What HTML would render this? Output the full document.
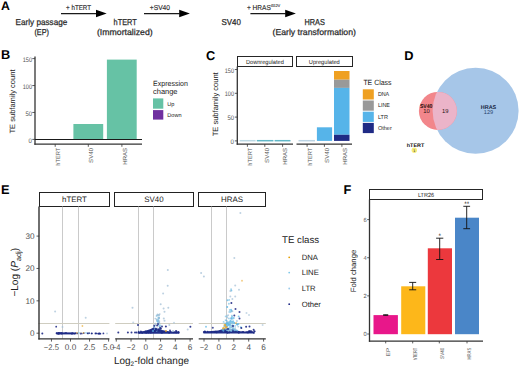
<!DOCTYPE html><html><head><meta charset="utf-8"><style>html,body{margin:0;padding:0;background:#fff;width:520px;height:367px;overflow:hidden}svg{display:block}text{font-family:"Liberation Sans",sans-serif;text-rendering:geometricPrecision}</style></head><body>
<svg width="520" height="367" viewBox="0 0 520 367">
<rect width="520" height="367" fill="#fff"/>
<text x="1.0" y="9.9" font-size="12.3" fill="#000" text-anchor="start" font-weight="bold">A</text>
<text x="15.6" y="24.8" font-size="8.6" fill="#2b2b2b" text-anchor="start" textLength="51.7" lengthAdjust="spacingAndGlyphs" stroke="#2b2b2b" stroke-width="0.25">Early passage</text>
<text x="34.4" y="34.9" font-size="8.6" fill="#2b2b2b" text-anchor="start" textLength="14.6" lengthAdjust="spacingAndGlyphs" stroke="#2b2b2b" stroke-width="0.25">(EP)</text>
<text x="113.6" y="24.8" font-size="8.6" fill="#2b2b2b" text-anchor="start" textLength="23.1" lengthAdjust="spacingAndGlyphs" stroke="#2b2b2b" stroke-width="0.25">hTERT</text>
<text x="96.9" y="34.9" font-size="8.6" fill="#2b2b2b" text-anchor="start" textLength="55.8" lengthAdjust="spacingAndGlyphs" stroke="#2b2b2b" stroke-width="0.25">(Immortalized)</text>
<text x="221.5" y="24.8" font-size="8.6" fill="#2b2b2b" text-anchor="start" textLength="19.4" lengthAdjust="spacingAndGlyphs" stroke="#2b2b2b" stroke-width="0.25">SV40</text>
<text x="304.4" y="24.8" font-size="8.6" fill="#2b2b2b" text-anchor="start" textLength="20.4" lengthAdjust="spacingAndGlyphs" stroke="#2b2b2b" stroke-width="0.25">HRAS</text>
<text x="272.5" y="34.9" font-size="8.6" fill="#2b2b2b" text-anchor="start" textLength="83.4" lengthAdjust="spacingAndGlyphs" stroke="#2b2b2b" stroke-width="0.25">(Early transformation)</text>
<text x="66.1" y="9.6" font-size="7.1" fill="#2b2b2b" text-anchor="start" textLength="24.9" lengthAdjust="spacingAndGlyphs" stroke="#2b2b2b" stroke-width="0.15">+ hTERT</text>
<text x="149.8" y="9.8" font-size="7.1" fill="#2b2b2b" text-anchor="start" textLength="20.2" lengthAdjust="spacingAndGlyphs" stroke="#2b2b2b" stroke-width="0.15">+SV40</text>
<text x="246.9" y="9.8" font-size="7.1" fill="#2b2b2b" text-anchor="start" textLength="23.9" lengthAdjust="spacingAndGlyphs" stroke="#2b2b2b" stroke-width="0.15">+ HRAS</text>
<text x="271.0" y="7.4" font-size="4.0" fill="#2b2b2b" text-anchor="start" textLength="9.2" lengthAdjust="spacingAndGlyphs" stroke="#2b2b2b" stroke-width="0.15">G12V</text>
<line x1="61" y1="13.6" x2="96.5" y2="13.6" stroke="#1a1a1a" stroke-width="1.1"/>
<polygon points="96.0,9.8 106.7,13.6 96.0,17.2" fill="#000"/>
<line x1="144" y1="13.6" x2="179.7" y2="13.6" stroke="#1a1a1a" stroke-width="1.1"/>
<polygon points="179.2,9.8 189.89999999999998,13.6 179.2,17.2" fill="#000"/>
<line x1="250.4" y1="13.6" x2="285.7" y2="13.6" stroke="#1a1a1a" stroke-width="1.1"/>
<polygon points="285.2,9.8 295.9,13.6 285.2,17.2" fill="#000"/>
<text x="1.0" y="59.4" font-size="12.8" fill="#000" text-anchor="start" font-weight="bold">B</text>
<line x1="35" y1="56.6" x2="35" y2="144.8" stroke="#333" stroke-width="1.3"/>
<line x1="34.4" y1="144.2" x2="142" y2="144.2" stroke="#333" stroke-width="1.3"/>
<line x1="32.3" y1="139.4" x2="35" y2="139.4" stroke="#333" stroke-width="0.8"/>
<text x="32.0" y="142.5" font-size="6.6" fill="#555" text-anchor="end" textLength="3.4" lengthAdjust="spacingAndGlyphs">0</text>
<line x1="32.3" y1="112.46666666666667" x2="35" y2="112.46666666666667" stroke="#333" stroke-width="0.8"/>
<text x="32.0" y="115.56666666666666" font-size="6.6" fill="#555" text-anchor="end" textLength="6.6" lengthAdjust="spacingAndGlyphs">50</text>
<line x1="32.3" y1="85.53333333333335" x2="35" y2="85.53333333333335" stroke="#333" stroke-width="0.8"/>
<text x="32.0" y="88.63333333333334" font-size="6.6" fill="#555" text-anchor="end" textLength="9.3" lengthAdjust="spacingAndGlyphs">100</text>
<line x1="32.3" y1="58.60000000000001" x2="35" y2="58.60000000000001" stroke="#333" stroke-width="0.8"/>
<text x="32.0" y="61.70000000000001" font-size="6.6" fill="#555" text-anchor="end" textLength="9.3" lengthAdjust="spacingAndGlyphs">150</text>
<rect x="73.40" y="124.00" width="29.80" height="15.50" fill="#66C2A5"/>
<rect x="106.90" y="59.60" width="29.80" height="79.90" fill="#66C2A5"/>
<line x1="35" y1="139.5" x2="142" y2="139.5" stroke="#1a1a1a" stroke-width="1.1"/>
<line x1="55.2" y1="144.2" x2="55.2" y2="146.8" stroke="#333" stroke-width="0.8"/>
<line x1="88.3" y1="144.2" x2="88.3" y2="146.8" stroke="#333" stroke-width="0.8"/>
<line x1="121.9" y1="144.2" x2="121.9" y2="146.8" stroke="#333" stroke-width="0.8"/>
<text transform="translate(59.800000000000004,147.9) rotate(-90)" x="0" y="0" font-size="5.9" fill="#555" text-anchor="end" textLength="17.8" lengthAdjust="spacingAndGlyphs">hTERT</text>
<text transform="translate(92.89999999999999,147.9) rotate(-90)" x="0" y="0" font-size="5.9" fill="#555" text-anchor="end" textLength="15.0" lengthAdjust="spacingAndGlyphs">SV40</text>
<text transform="translate(126.5,147.9) rotate(-90)" x="0" y="0" font-size="5.9" fill="#555" text-anchor="end" textLength="16.8" lengthAdjust="spacingAndGlyphs">HRAS</text>
<text transform="translate(15.0,101.5) rotate(-90)" x="0" y="0" font-size="7.6" fill="#222" text-anchor="middle" textLength="64" lengthAdjust="spacingAndGlyphs">TE subfamily count</text>
<text x="153" y="86.1" font-size="7.5" fill="#222" text-anchor="start" textLength="34.9" lengthAdjust="spacingAndGlyphs">Expression</text>
<text x="153" y="93.8" font-size="7.5" fill="#222" text-anchor="start" textLength="24.5" lengthAdjust="spacingAndGlyphs">change</text>
<rect x="153.00" y="98.40" width="10.30" height="10.30" fill="#66C2A5"/>
<rect x="153.00" y="110.10" width="10.30" height="9.50" fill="#7030A0"/>
<text x="167.3" y="106.2" font-size="5.6" fill="#222" text-anchor="start">Up</text>
<text x="167.3" y="117.0" font-size="5.6" fill="#222" text-anchor="start" textLength="14.2" lengthAdjust="spacingAndGlyphs">Down</text>
<text x="206.0" y="59.9" font-size="12.8" fill="#000" text-anchor="start" font-weight="bold">C</text>
<rect x="237.50" y="56.50" width="55.00" height="10.00" fill="#fff" stroke="#262626" stroke-width="1"/>
<rect x="296.50" y="56.50" width="56.00" height="10.00" fill="#fff" stroke="#262626" stroke-width="1"/>
<text x="264.9" y="64.0" font-size="6.0" fill="#222" text-anchor="middle" textLength="37.8" lengthAdjust="spacingAndGlyphs">Downregulated</text>
<text x="324.3" y="64.0" font-size="6.0" fill="#222" text-anchor="middle" textLength="31" lengthAdjust="spacingAndGlyphs">Upregulated</text>
<line x1="237.3" y1="66.5" x2="237.3" y2="144.8" stroke="#333" stroke-width="1.3"/>
<line x1="236.7" y1="144.2" x2="293" y2="144.2" stroke="#333" stroke-width="1.3"/>
<line x1="296.5" y1="144.2" x2="352" y2="144.2" stroke="#333" stroke-width="1.3"/>
<line x1="234.8" y1="140.9" x2="237.2" y2="140.9" stroke="#333" stroke-width="0.8"/>
<text x="234.0" y="143.9" font-size="6.6" fill="#555" text-anchor="end" textLength="3.4" lengthAdjust="spacingAndGlyphs">0</text>
<line x1="234.8" y1="117.10000000000001" x2="237.2" y2="117.10000000000001" stroke="#333" stroke-width="0.8"/>
<text x="234.0" y="120.10000000000001" font-size="6.6" fill="#555" text-anchor="end" textLength="6.6" lengthAdjust="spacingAndGlyphs">50</text>
<line x1="234.8" y1="93.30000000000001" x2="237.2" y2="93.30000000000001" stroke="#333" stroke-width="0.8"/>
<text x="234.0" y="96.30000000000001" font-size="6.6" fill="#555" text-anchor="end" textLength="9.3" lengthAdjust="spacingAndGlyphs">100</text>
<line x1="234.8" y1="69.5" x2="237.2" y2="69.5" stroke="#333" stroke-width="0.8"/>
<text x="234.0" y="72.5" font-size="6.6" fill="#555" text-anchor="end" textLength="9.3" lengthAdjust="spacingAndGlyphs">150</text>
<line x1="247.4" y1="144.2" x2="247.4" y2="146.8" stroke="#333" stroke-width="0.8"/>
<line x1="264.8" y1="144.2" x2="264.8" y2="146.8" stroke="#333" stroke-width="0.8"/>
<line x1="282.6" y1="144.2" x2="282.6" y2="146.8" stroke="#333" stroke-width="0.8"/>
<line x1="307.1" y1="144.2" x2="307.1" y2="146.8" stroke="#333" stroke-width="0.8"/>
<line x1="324.4" y1="144.2" x2="324.4" y2="146.8" stroke="#333" stroke-width="0.8"/>
<line x1="341.9" y1="144.2" x2="341.9" y2="146.8" stroke="#333" stroke-width="0.8"/>
<text transform="translate(252.0,147.9) rotate(-90)" x="0" y="0" font-size="5.9" fill="#555" text-anchor="end" textLength="17.8" lengthAdjust="spacingAndGlyphs">hTERT</text>
<text transform="translate(269.40000000000003,147.9) rotate(-90)" x="0" y="0" font-size="5.9" fill="#555" text-anchor="end" textLength="15.0" lengthAdjust="spacingAndGlyphs">SV40</text>
<text transform="translate(287.20000000000005,147.9) rotate(-90)" x="0" y="0" font-size="5.9" fill="#555" text-anchor="end" textLength="16.8" lengthAdjust="spacingAndGlyphs">HRAS</text>
<text transform="translate(311.70000000000005,147.9) rotate(-90)" x="0" y="0" font-size="5.9" fill="#555" text-anchor="end" textLength="17.8" lengthAdjust="spacingAndGlyphs">hTERT</text>
<text transform="translate(329.0,147.9) rotate(-90)" x="0" y="0" font-size="5.9" fill="#555" text-anchor="end" textLength="15.0" lengthAdjust="spacingAndGlyphs">SV40</text>
<text transform="translate(346.5,147.9) rotate(-90)" x="0" y="0" font-size="5.9" fill="#555" text-anchor="end" textLength="16.8" lengthAdjust="spacingAndGlyphs">HRAS</text>
<line x1="239.7" y1="140.7" x2="255.6" y2="140.7" stroke="#BCD9E4" stroke-width="1.5"/>
<line x1="256.8" y1="140.7" x2="273.4" y2="140.7" stroke="#62B8C8" stroke-width="1.5"/>
<line x1="274.6" y1="140.7" x2="290.5" y2="140.7" stroke="#62B8C8" stroke-width="1.5"/>
<line x1="298.5" y1="140.7" x2="315.0" y2="140.7" stroke="#BCD4E4" stroke-width="1.5"/>
<rect x="316.90" y="127.30" width="15.20" height="13.60" fill="#56B4E9"/>
<rect x="334.00" y="71.00" width="15.50" height="8.70" fill="#EFA021"/>
<rect x="334.00" y="79.70" width="15.50" height="8.20" fill="#999999"/>
<rect x="334.00" y="87.90" width="15.50" height="46.90" fill="#56B4E9"/>
<rect x="334.00" y="134.80" width="15.50" height="6.10" fill="#1F2A85"/>
<text transform="translate(218.0,104.3) rotate(-90)" x="0" y="0" font-size="7.6" fill="#222" text-anchor="middle" textLength="64" lengthAdjust="spacingAndGlyphs">TE subfamily count</text>
<text x="363.4" y="84.6" font-size="7.5" fill="#222" text-anchor="start" textLength="28.1" lengthAdjust="spacingAndGlyphs">TE Class</text>
<rect x="362.80" y="89.30" width="11.00" height="10.20" fill="#EFA021"/>
<text x="377.9" y="96.1" font-size="5.8" fill="#222" text-anchor="start" textLength="11.3" lengthAdjust="spacingAndGlyphs">DNA</text>
<rect x="362.80" y="100.50" width="11.00" height="10.20" fill="#999999"/>
<text x="377.9" y="107.3" font-size="5.8" fill="#222" text-anchor="start" textLength="12" lengthAdjust="spacingAndGlyphs">LINE</text>
<rect x="362.80" y="111.70" width="11.00" height="10.20" fill="#56B4E9"/>
<text x="377.9" y="118.49999999999999" font-size="5.8" fill="#222" text-anchor="start" textLength="10" lengthAdjust="spacingAndGlyphs">LTR</text>
<rect x="362.80" y="122.90" width="11.00" height="10.20" fill="#1F2A85"/>
<text x="377.9" y="129.7" font-size="5.8" fill="#222" text-anchor="start" textLength="13.9" lengthAdjust="spacingAndGlyphs">Other</text>
<text x="404.3" y="59.9" font-size="12.8" fill="#000" text-anchor="start" font-weight="bold">D</text>
<defs><clipPath id="bigc"><circle cx="475.6" cy="110.8" r="43"/></clipPath></defs>
<circle cx="475.6" cy="110.8" r="43" fill="#A6C6E8"/>
<circle cx="437.9" cy="110.9" r="19" fill="#F2868B"/>
<circle cx="437.9" cy="110.9" r="19" fill="#EBB4C9" clip-path="url(#bigc)"/>
<text x="426.2" y="107.5" font-size="5.6" fill="#110808" text-anchor="middle" font-weight="bold" textLength="12.5" lengthAdjust="spacingAndGlyphs">SV40</text>
<text x="426.4" y="112.7" font-size="5.8" fill="#221111" text-anchor="middle">10</text>
<text x="445.3" y="113.1" font-size="5.8" fill="#221111" text-anchor="middle">19</text>
<text x="488.5" y="108.5" font-size="5.6" fill="#14223c" text-anchor="middle" font-weight="bold" textLength="15.4" lengthAdjust="spacingAndGlyphs">HRAS</text>
<text x="488.5" y="113.9" font-size="5.6" fill="#24406a" text-anchor="middle">129</text>
<circle cx="414.3" cy="150.3" r="2.7" fill="#F6EC7A"/>
<text x="415.5" y="146.9" font-size="5.0" fill="#111" text-anchor="middle" font-weight="bold" textLength="17.4" lengthAdjust="spacingAndGlyphs">hTERT</text>
<text x="414.3" y="151.8" font-size="3.8" fill="#222" text-anchor="middle">1</text>
<text x="1.0" y="193.9" font-size="12.8" fill="#000" text-anchor="start" font-weight="bold">E</text>
<rect x="39.50" y="192.50" width="70.00" height="14.00" fill="#fff" stroke="#222" stroke-width="1"/>
<text x="74.5" y="202.3" font-size="7.9" fill="#222" text-anchor="middle">hTERT</text>
<line x1="62.5" y1="206.6" x2="62.5" y2="338.8" stroke="#CACACA" stroke-width="1"/>
<line x1="78.5" y1="206.6" x2="78.5" y2="338.8" stroke="#CACACA" stroke-width="1"/>
<line x1="38.4" y1="323.5" x2="109.4" y2="323.5" stroke="#CFCDC0" stroke-width="1"/>
<line x1="38.4" y1="338.9" x2="109.4" y2="338.9" stroke="#333" stroke-width="1.4"/>
<line x1="51.45" y1="338.8" x2="51.45" y2="341.6" stroke="#333" stroke-width="0.8"/>
<text x="51.45" y="349.8" font-size="8.2" fill="#555" text-anchor="middle" textLength="15.2" lengthAdjust="spacingAndGlyphs">−2.5</text>
<line x1="70.5" y1="338.8" x2="70.5" y2="341.6" stroke="#333" stroke-width="0.8"/>
<text x="70.5" y="349.8" font-size="8.2" fill="#555" text-anchor="middle">0.0</text>
<line x1="89.55" y1="338.8" x2="89.55" y2="341.6" stroke="#333" stroke-width="0.8"/>
<text x="89.55" y="349.8" font-size="8.2" fill="#555" text-anchor="middle">2.5</text>
<line x1="108.6" y1="338.8" x2="108.6" y2="341.6" stroke="#333" stroke-width="0.8"/>
<text x="108.6" y="349.8" font-size="8.2" fill="#555" text-anchor="middle">5.0</text>
<rect x="114.50" y="192.50" width="79.00" height="14.00" fill="#fff" stroke="#222" stroke-width="1"/>
<text x="154.0" y="202.3" font-size="7.9" fill="#222" text-anchor="middle">SV40</text>
<line x1="138.5" y1="206.6" x2="138.5" y2="338.8" stroke="#CACACA" stroke-width="1"/>
<line x1="153.5" y1="206.6" x2="153.5" y2="338.8" stroke="#CACACA" stroke-width="1"/>
<line x1="115.2" y1="323.5" x2="193.0" y2="323.5" stroke="#CFCDC0" stroke-width="1"/>
<line x1="115.2" y1="338.9" x2="193.0" y2="338.9" stroke="#333" stroke-width="1.4"/>
<line x1="116.28000000000002" y1="338.8" x2="116.28000000000002" y2="341.6" stroke="#333" stroke-width="0.8"/>
<text x="116.28000000000002" y="349.8" font-size="8.2" fill="#555" text-anchor="middle" textLength="8.6" lengthAdjust="spacingAndGlyphs">−4</text>
<line x1="131.04000000000002" y1="338.8" x2="131.04000000000002" y2="341.6" stroke="#333" stroke-width="0.8"/>
<text x="131.04000000000002" y="349.8" font-size="8.2" fill="#555" text-anchor="middle" textLength="8.6" lengthAdjust="spacingAndGlyphs">−2</text>
<line x1="145.8" y1="338.8" x2="145.8" y2="341.6" stroke="#333" stroke-width="0.8"/>
<text x="145.8" y="349.8" font-size="8.2" fill="#555" text-anchor="middle">0</text>
<line x1="160.56" y1="338.8" x2="160.56" y2="341.6" stroke="#333" stroke-width="0.8"/>
<text x="160.56" y="349.8" font-size="8.2" fill="#555" text-anchor="middle">2</text>
<line x1="175.32000000000002" y1="338.8" x2="175.32000000000002" y2="341.6" stroke="#333" stroke-width="0.8"/>
<text x="175.32000000000002" y="349.8" font-size="8.2" fill="#555" text-anchor="middle">4</text>
<line x1="190.08" y1="338.8" x2="190.08" y2="341.6" stroke="#333" stroke-width="0.8"/>
<text x="190.08" y="349.8" font-size="8.2" fill="#555" text-anchor="middle">6</text>
<rect x="198.50" y="192.50" width="67.00" height="14.00" fill="#fff" stroke="#222" stroke-width="1"/>
<text x="232.0" y="202.3" font-size="7.9" fill="#222" text-anchor="middle">HRAS</text>
<line x1="211.5" y1="206.6" x2="211.5" y2="338.8" stroke="#CACACA" stroke-width="1"/>
<line x1="226.5" y1="206.6" x2="226.5" y2="338.8" stroke="#CACACA" stroke-width="1"/>
<line x1="198.7" y1="323.5" x2="265.8" y2="323.5" stroke="#CFCDC0" stroke-width="1"/>
<line x1="198.7" y1="338.9" x2="265.8" y2="338.9" stroke="#333" stroke-width="1.4"/>
<line x1="204.0" y1="338.8" x2="204.0" y2="341.6" stroke="#333" stroke-width="0.8"/>
<text x="204.0" y="349.8" font-size="8.2" fill="#555" text-anchor="middle" textLength="8.6" lengthAdjust="spacingAndGlyphs">−2</text>
<line x1="218.9" y1="338.8" x2="218.9" y2="341.6" stroke="#333" stroke-width="0.8"/>
<text x="218.9" y="349.8" font-size="8.2" fill="#555" text-anchor="middle">0</text>
<line x1="233.8" y1="338.8" x2="233.8" y2="341.6" stroke="#333" stroke-width="0.8"/>
<text x="233.8" y="349.8" font-size="8.2" fill="#555" text-anchor="middle">2</text>
<line x1="248.70000000000002" y1="338.8" x2="248.70000000000002" y2="341.6" stroke="#333" stroke-width="0.8"/>
<text x="248.70000000000002" y="349.8" font-size="8.2" fill="#555" text-anchor="middle">4</text>
<line x1="263.6" y1="338.8" x2="263.6" y2="341.6" stroke="#333" stroke-width="0.8"/>
<text x="263.6" y="349.8" font-size="8.2" fill="#555" text-anchor="middle">6</text>
<line x1="39.0" y1="206.5" x2="39.0" y2="339.6" stroke="#333" stroke-width="1.4"/>
<line x1="36.5" y1="333.2" x2="39.2" y2="333.2" stroke="#333" stroke-width="0.8"/>
<text x="34.5" y="336.09999999999997" font-size="8.2" fill="#555" text-anchor="end">0</text>
<line x1="36.5" y1="300.8333333333333" x2="39.2" y2="300.8333333333333" stroke="#333" stroke-width="0.8"/>
<text x="34.5" y="303.7333333333333" font-size="8.2" fill="#555" text-anchor="end">10</text>
<line x1="36.5" y1="268.4666666666667" x2="39.2" y2="268.4666666666667" stroke="#333" stroke-width="0.8"/>
<text x="34.5" y="271.3666666666667" font-size="8.2" fill="#555" text-anchor="end">20</text>
<line x1="36.5" y1="236.1" x2="39.2" y2="236.1" stroke="#333" stroke-width="0.8"/>
<text x="34.5" y="239.0" font-size="8.2" fill="#555" text-anchor="end">30</text>
<text transform="translate(18.3,272.3) rotate(-90)" font-size="10.2" fill="#222" text-anchor="middle" textLength="48.6" lengthAdjust="spacingAndGlyphs">−Log (<tspan font-style="italic">P</tspan><tspan font-size="7.4" dy="2.2">adj</tspan><tspan dy="-2.2">)</tspan></text>
<text x="114" y="363.8" font-size="10.2" fill="#222" textLength="75" lengthAdjust="spacingAndGlyphs">Log<tspan font-size="6.5" dy="2">2</tspan><tspan dy="-2">-fold change</tspan></text>
<text x="282.0" y="242.7" font-size="9.7" fill="#222" text-anchor="start" textLength="37.1" lengthAdjust="spacingAndGlyphs">TE class</text>
<circle cx="289.2" cy="257.3" r="0.9" fill="#E69F00"/>
<text x="301.7" y="260.1" font-size="7.7" fill="#222" text-anchor="start">DNA</text>
<circle cx="289.2" cy="272.6" r="0.9" fill="#7FC8E8"/>
<text x="301.7" y="275.40000000000003" font-size="7.7" fill="#222" text-anchor="start">LINE</text>
<circle cx="289.2" cy="288.5" r="0.9" fill="#9BCBEA"/>
<text x="301.7" y="291.3" font-size="7.7" fill="#222" text-anchor="start">LTR</text>
<circle cx="289.2" cy="304.2" r="0.9" fill="#1F2A85"/>
<text x="301.7" y="307.0" font-size="7.7" fill="#222" text-anchor="start">Other</text>
<defs><filter id="bl" x="-5%" y="-5%" width="110%" height="110%"><feGaussianBlur stdDeviation="0.45"/></filter></defs>
<g filter="url(#bl)">
<circle cx="55.1" cy="311.4" r="1.0" fill="#A3BFD6" fill-opacity="0.7"/>
<circle cx="85.7" cy="317.8" r="1.0" fill="#A3BFD6" fill-opacity="0.7"/>
<circle cx="56.2" cy="326.7" r="0.9" fill="#1F2A85" fill-opacity="0.9"/>
<circle cx="62.5" cy="326.9" r="0.9" fill="#A3BFD6" fill-opacity="0.8"/>
<circle cx="82.4" cy="326.0" r="0.9" fill="#E9A21A" fill-opacity="0.6"/>
<circle cx="42.3" cy="333.4" r="1.0" fill="#1F2A85" fill-opacity="0.9"/>
<circle cx="103.4" cy="333.4" r="0.9" fill="#1F2A85" fill-opacity="0.9"/>
<circle cx="107.0" cy="333.4" r="0.9" fill="#A3BFD6" fill-opacity="0.8"/>
<rect x="56.5" y="332.4" width="18" height="2" fill="#1F2A85"/>
<circle cx="72.2" cy="333.4" r="0.85" fill="#1F2A85" fill-opacity="0.95"/>
<circle cx="96.2" cy="333.4" r="0.85" fill="#1F2A85" fill-opacity="0.95"/>
<circle cx="74.7" cy="333.5" r="0.85" fill="#1F2A85" fill-opacity="0.95"/>
<circle cx="61.4" cy="333.4" r="0.85" fill="#1F2A85" fill-opacity="0.95"/>
<circle cx="80.6" cy="333.6" r="0.85" fill="#1F2A85" fill-opacity="0.95"/>
<circle cx="58.5" cy="333.3" r="0.85" fill="#1F2A85" fill-opacity="0.95"/>
<circle cx="58.4" cy="333.6" r="0.85" fill="#1F2A85" fill-opacity="0.95"/>
<circle cx="83.8" cy="333.1" r="0.85" fill="#1F2A85" fill-opacity="0.95"/>
<circle cx="99.5" cy="333.7" r="0.85" fill="#1F2A85" fill-opacity="0.95"/>
<circle cx="81.8" cy="333.5" r="0.85" fill="#1F2A85" fill-opacity="0.95"/>
<circle cx="60.5" cy="333.1" r="0.85" fill="#1F2A85" fill-opacity="0.95"/>
<circle cx="75.7" cy="333.1" r="0.85" fill="#1F2A85" fill-opacity="0.95"/>
<circle cx="61.6" cy="333.2" r="0.85" fill="#1F2A85" fill-opacity="0.95"/>
<circle cx="57.0" cy="333.4" r="0.85" fill="#1F2A85" fill-opacity="0.95"/>
<circle cx="71.7" cy="333.6" r="0.85" fill="#1F2A85" fill-opacity="0.95"/>
<circle cx="75.3" cy="333.5" r="0.85" fill="#1F2A85" fill-opacity="0.95"/>
<circle cx="74.4" cy="333.5" r="0.85" fill="#1F2A85" fill-opacity="0.95"/>
<circle cx="72.4" cy="333.3" r="0.85" fill="#1F2A85" fill-opacity="0.95"/>
<circle cx="100.4" cy="333.7" r="0.85" fill="#1F2A85" fill-opacity="0.95"/>
<circle cx="91.6" cy="333.5" r="0.85" fill="#1F2A85" fill-opacity="0.95"/>
<circle cx="66.3" cy="333.2" r="0.85" fill="#1F2A85" fill-opacity="0.95"/>
<circle cx="65.3" cy="333.1" r="0.85" fill="#1F2A85" fill-opacity="0.95"/>
<circle cx="87.6" cy="333.3" r="0.85" fill="#1F2A85" fill-opacity="0.95"/>
<circle cx="91.9" cy="333.3" r="0.85" fill="#1F2A85" fill-opacity="0.95"/>
<circle cx="98.1" cy="333.6" r="0.85" fill="#1F2A85" fill-opacity="0.95"/>
<circle cx="56.5" cy="333.2" r="0.85" fill="#1F2A85" fill-opacity="0.95"/>
<circle cx="95.4" cy="333.4" r="0.85" fill="#1F2A85" fill-opacity="0.95"/>
<circle cx="99.4" cy="333.3" r="0.85" fill="#1F2A85" fill-opacity="0.95"/>
<circle cx="58.0" cy="333.5" r="0.85" fill="#1F2A85" fill-opacity="0.95"/>
<circle cx="88.3" cy="333.3" r="0.85" fill="#1F2A85" fill-opacity="0.95"/>
<circle cx="58.3" cy="333.3" r="0.85" fill="#1F2A85" fill-opacity="0.95"/>
<circle cx="98.5" cy="333.6" r="0.85" fill="#1F2A85" fill-opacity="0.95"/>
<circle cx="59.2" cy="333.2" r="0.85" fill="#1F2A85" fill-opacity="0.95"/>
<circle cx="58.7" cy="333.1" r="0.85" fill="#1F2A85" fill-opacity="0.95"/>
<circle cx="89.3" cy="333.2" r="0.85" fill="#1F2A85" fill-opacity="0.95"/>
<circle cx="77.2" cy="333.4" r="0.85" fill="#1F2A85" fill-opacity="0.95"/>
<circle cx="61.6" cy="333.5" r="0.85" fill="#1F2A85" fill-opacity="0.95"/>
<circle cx="59.6" cy="333.5" r="0.85" fill="#1F2A85" fill-opacity="0.95"/>
<circle cx="59.2" cy="333.4" r="0.85" fill="#1F2A85" fill-opacity="0.95"/>
<circle cx="62.4" cy="333.3" r="0.85" fill="#1F2A85" fill-opacity="0.95"/>
<circle cx="77.0" cy="332.8" r="0.9" fill="#E9A21A" fill-opacity="0.6"/>
<circle cx="79.0" cy="332.8" r="0.9" fill="#5BB6E6" fill-opacity="0.6"/>
<circle cx="81.0" cy="332.8" r="0.9" fill="#9A9A9A" fill-opacity="0.6"/>
<circle cx="83.5" cy="332.8" r="0.9" fill="#E9A21A" fill-opacity="0.6"/>
<circle cx="86.0" cy="332.8" r="0.9" fill="#5BB6E6" fill-opacity="0.6"/>
<circle cx="89.0" cy="332.8" r="0.9" fill="#A3BFD6" fill-opacity="0.6"/>
<path d="M137.7,333.8 L137.7,332.0 Q143,331.4 147,330.2 Q151,329 153.5,327.5 L157,328 Q160,329.5 163,330.2 Q167,331.2 171,331.5 L179.2,331.8 L179.2,333.8 Z" fill="#22308A"/>
<circle cx="127.9" cy="332.6" r="1.0" fill="#1F2A85" fill-opacity="0.9"/>
<circle cx="131.5" cy="332.6" r="1.0" fill="#1F2A85" fill-opacity="0.9"/>
<circle cx="135.0" cy="332.6" r="1.0" fill="#1F2A85" fill-opacity="0.9"/>
<circle cx="136.5" cy="332.6" r="1.0" fill="#1F2A85" fill-opacity="0.9"/>
<circle cx="178.8" cy="332.5" r="0.9" fill="#1F2A85" fill-opacity="0.9"/>
<circle cx="150.8" cy="332.7" r="0.9" fill="#1F2A85" fill-opacity="0.9"/>
<circle cx="146.8" cy="331.8" r="0.9" fill="#1F2A85" fill-opacity="0.9"/>
<circle cx="173.9" cy="332.3" r="0.9" fill="#1F2A85" fill-opacity="0.9"/>
<circle cx="142.2" cy="332.9" r="0.9" fill="#1F2A85" fill-opacity="0.9"/>
<circle cx="147.0" cy="331.6" r="0.9" fill="#1F2A85" fill-opacity="0.9"/>
<circle cx="170.5" cy="331.7" r="0.9" fill="#1F2A85" fill-opacity="0.9"/>
<circle cx="150.4" cy="331.2" r="0.9" fill="#1F2A85" fill-opacity="0.9"/>
<circle cx="141.8" cy="332.1" r="0.9" fill="#1F2A85" fill-opacity="0.9"/>
<circle cx="148.2" cy="332.2" r="0.9" fill="#1F2A85" fill-opacity="0.9"/>
<circle cx="153.6" cy="331.9" r="0.9" fill="#1F2A85" fill-opacity="0.9"/>
<circle cx="178.3" cy="332.0" r="0.9" fill="#1F2A85" fill-opacity="0.9"/>
<circle cx="162.1" cy="332.7" r="0.9" fill="#1F2A85" fill-opacity="0.9"/>
<circle cx="145.7" cy="331.4" r="0.9" fill="#1F2A85" fill-opacity="0.9"/>
<circle cx="176.2" cy="332.6" r="0.9" fill="#1F2A85" fill-opacity="0.9"/>
<circle cx="148.5" cy="331.4" r="0.9" fill="#1F2A85" fill-opacity="0.9"/>
<circle cx="169.1" cy="332.8" r="0.9" fill="#1F2A85" fill-opacity="0.9"/>
<circle cx="146.3" cy="332.8" r="0.9" fill="#1F2A85" fill-opacity="0.9"/>
<circle cx="175.1" cy="332.2" r="0.9" fill="#1F2A85" fill-opacity="0.9"/>
<circle cx="155.7" cy="331.3" r="0.9" fill="#1F2A85" fill-opacity="0.9"/>
<circle cx="139.6" cy="332.8" r="0.9" fill="#1F2A85" fill-opacity="0.9"/>
<circle cx="148.0" cy="332.4" r="0.9" fill="#1F2A85" fill-opacity="0.9"/>
<circle cx="148.8" cy="332.6" r="0.9" fill="#1F2A85" fill-opacity="0.9"/>
<circle cx="163.1" cy="331.6" r="0.9" fill="#1F2A85" fill-opacity="0.9"/>
<circle cx="145.4" cy="332.4" r="0.9" fill="#1F2A85" fill-opacity="0.9"/>
<circle cx="140.9" cy="331.5" r="0.9" fill="#1F2A85" fill-opacity="0.9"/>
<circle cx="161.5" cy="332.6" r="0.9" fill="#1F2A85" fill-opacity="0.9"/>
<circle cx="163.8" cy="331.6" r="0.9" fill="#1F2A85" fill-opacity="0.9"/>
<circle cx="176.5" cy="331.5" r="0.9" fill="#1F2A85" fill-opacity="0.9"/>
<circle cx="138.7" cy="331.6" r="0.9" fill="#1F2A85" fill-opacity="0.9"/>
<circle cx="160.7" cy="304.3" r="1.0" fill="#A3BFD6" fill-opacity="0.75"/>
<circle cx="163.6" cy="308.4" r="1.0" fill="#A3BFD6" fill-opacity="0.75"/>
<circle cx="168.3" cy="307.7" r="1.0" fill="#A3BFD6" fill-opacity="0.75"/>
<circle cx="164.5" cy="311.8" r="1.0" fill="#A3BFD6" fill-opacity="0.75"/>
<circle cx="163.8" cy="318.6" r="1.0" fill="#A3BFD6" fill-opacity="0.75"/>
<circle cx="164.5" cy="320.7" r="1.0" fill="#A3BFD6" fill-opacity="0.75"/>
<circle cx="132.5" cy="307.7" r="1.0" fill="#A3BFD6" fill-opacity="0.75"/>
<circle cx="133.2" cy="322.4" r="1.0" fill="#A3BFD6" fill-opacity="0.6"/>
<circle cx="138.0" cy="325.1" r="1.0" fill="#1F2A85" fill-opacity="0.9"/>
<circle cx="174.0" cy="322.7" r="1.0" fill="#A3BFD6" fill-opacity="0.6"/>
<circle cx="169.3" cy="325.1" r="1.0" fill="#A3BFD6" fill-opacity="0.7"/>
<circle cx="165.9" cy="326.5" r="1.0" fill="#1F2A85" fill-opacity="0.9"/>
<circle cx="190.4" cy="326.8" r="1.0" fill="#1F2A85" fill-opacity="0.9"/>
<circle cx="187.7" cy="329.5" r="1.0" fill="#A3BFD6" fill-opacity="0.7"/>
<circle cx="163.1" cy="293.4" r="1.0" fill="#A3BFD6" fill-opacity="0.7"/>
<circle cx="167.8" cy="270.1" r="1.0" fill="#A3BFD6" fill-opacity="0.75"/>
<circle cx="167.7" cy="285.7" r="1.0" fill="#A3BFD6" fill-opacity="0.75"/>
<circle cx="118.3" cy="332.4" r="1.0" fill="#1F2A85" fill-opacity="0.9"/>
<circle cx="158.8" cy="322.1" r="0.95" fill="#A3BFD6" fill-opacity="0.75"/>
<circle cx="158.3" cy="320.7" r="0.95" fill="#5BB6E6" fill-opacity="0.75"/>
<circle cx="160.0" cy="328.8" r="0.95" fill="#A3BFD6" fill-opacity="0.75"/>
<circle cx="159.1" cy="318.6" r="0.95" fill="#A3BFD6" fill-opacity="0.75"/>
<circle cx="158.2" cy="319.8" r="0.95" fill="#86C6E6" fill-opacity="0.75"/>
<circle cx="158.3" cy="321.6" r="0.95" fill="#A3BFD6" fill-opacity="0.75"/>
<circle cx="158.3" cy="318.0" r="0.95" fill="#86C6E6" fill-opacity="0.75"/>
<circle cx="157.9" cy="321.5" r="0.95" fill="#A3BFD6" fill-opacity="0.75"/>
<circle cx="158.7" cy="324.3" r="0.95" fill="#A3BFD6" fill-opacity="0.75"/>
<circle cx="158.0" cy="323.4" r="0.95" fill="#86C6E6" fill-opacity="0.75"/>
<circle cx="157.8" cy="315.0" r="0.95" fill="#A3BFD6" fill-opacity="0.75"/>
<circle cx="155.3" cy="323.7" r="0.95" fill="#A3BFD6" fill-opacity="0.75"/>
<circle cx="158.9" cy="314.9" r="0.95" fill="#86C6E6" fill-opacity="0.75"/>
<circle cx="157.0" cy="315.5" r="0.95" fill="#A3BFD6" fill-opacity="0.75"/>
<circle cx="156.4" cy="330.9" r="0.95" fill="#86C6E6" fill-opacity="0.75"/>
<circle cx="156.9" cy="319.4" r="0.95" fill="#86C6E6" fill-opacity="0.75"/>
<circle cx="159.6" cy="328.9" r="0.95" fill="#A3BFD6" fill-opacity="0.75"/>
<circle cx="158.7" cy="317.5" r="0.95" fill="#A3BFD6" fill-opacity="0.75"/>
<circle cx="157.5" cy="314.5" r="0.95" fill="#A3BFD6" fill-opacity="0.75"/>
<circle cx="156.6" cy="315.9" r="0.95" fill="#86C6E6" fill-opacity="0.75"/>
<circle cx="156.9" cy="320.9" r="0.95" fill="#86C6E6" fill-opacity="0.75"/>
<circle cx="157.9" cy="321.5" r="0.95" fill="#5BB6E6" fill-opacity="0.75"/>
<circle cx="159.7" cy="314.1" r="0.95" fill="#A3BFD6" fill-opacity="0.75"/>
<circle cx="160.4" cy="325.5" r="0.95" fill="#86C6E6" fill-opacity="0.75"/>
<circle cx="159.4" cy="323.4" r="0.95" fill="#A3BFD6" fill-opacity="0.75"/>
<circle cx="160.6" cy="327.1" r="0.95" fill="#A3BFD6" fill-opacity="0.75"/>
<circle cx="155.4" cy="318.6" r="0.95" fill="#A3BFD6" fill-opacity="0.75"/>
<circle cx="159.2" cy="322.8" r="0.95" fill="#A3BFD6" fill-opacity="0.75"/>
<circle cx="154.2" cy="326.6" r="0.95" fill="#5BB6E6" fill-opacity="0.75"/>
<circle cx="159.0" cy="315.2" r="0.95" fill="#A3BFD6" fill-opacity="0.75"/>
<circle cx="159.3" cy="326.1" r="0.95" fill="#5BB6E6" fill-opacity="0.75"/>
<circle cx="157.6" cy="321.2" r="0.95" fill="#86C6E6" fill-opacity="0.75"/>
<circle cx="159.0" cy="317.8" r="0.95" fill="#5BB6E6" fill-opacity="0.75"/>
<circle cx="157.3" cy="328.4" r="0.95" fill="#A3BFD6" fill-opacity="0.75"/>
<circle cx="158.5" cy="325.1" r="0.95" fill="#A3BFD6" fill-opacity="0.75"/>
<circle cx="159.3" cy="321.3" r="0.95" fill="#A3BFD6" fill-opacity="0.75"/>
<circle cx="159.0" cy="317.7" r="0.95" fill="#A3BFD6" fill-opacity="0.75"/>
<circle cx="154.7" cy="329.2" r="0.95" fill="#86C6E6" fill-opacity="0.75"/>
<circle cx="155.6" cy="325.0" r="0.95" fill="#A3BFD6" fill-opacity="0.75"/>
<circle cx="156.8" cy="320.0" r="0.95" fill="#A3BFD6" fill-opacity="0.75"/>
<circle cx="160.1" cy="328.9" r="0.95" fill="#1F2A85" fill-opacity="0.85"/>
<circle cx="160.1" cy="327.8" r="0.95" fill="#1F2A85" fill-opacity="0.85"/>
<circle cx="155.1" cy="330.4" r="0.95" fill="#1F2A85" fill-opacity="0.85"/>
<circle cx="155.9" cy="330.5" r="0.95" fill="#1F2A85" fill-opacity="0.85"/>
<circle cx="161.8" cy="331.9" r="0.95" fill="#1F2A85" fill-opacity="0.85"/>
<circle cx="154.3" cy="325.8" r="0.95" fill="#1F2A85" fill-opacity="0.85"/>
<circle cx="158.9" cy="329.5" r="0.95" fill="#1F2A85" fill-opacity="0.85"/>
<circle cx="157.1" cy="325.5" r="0.95" fill="#1F2A85" fill-opacity="0.85"/>
<circle cx="155.2" cy="330.8" r="0.95" fill="#1F2A85" fill-opacity="0.85"/>
<circle cx="155.8" cy="330.0" r="0.95" fill="#1F2A85" fill-opacity="0.85"/>
<circle cx="156.0" cy="329.0" r="0.9" fill="#1F2A85" fill-opacity="0.9"/>
<circle cx="159.0" cy="330.5" r="0.9" fill="#1F2A85" fill-opacity="0.9"/>
<circle cx="161.0" cy="328.5" r="0.9" fill="#1F2A85" fill-opacity="0.9"/>
<circle cx="162.0" cy="326.5" r="0.9" fill="#1F2A85" fill-opacity="0.9"/>
<circle cx="158.0" cy="324.0" r="0.9" fill="#1F2A85" fill-opacity="0.9"/>
<circle cx="166.0" cy="331.0" r="0.9" fill="#E9A21A" fill-opacity="0.9"/>
<circle cx="153.0" cy="331.0" r="0.9" fill="#5BB6E6" fill-opacity="0.9"/>
<circle cx="170.0" cy="330.5" r="0.9" fill="#1F2A85" fill-opacity="0.9"/>
<circle cx="173.0" cy="331.0" r="0.9" fill="#A3BFD6" fill-opacity="0.9"/>
<circle cx="176.0" cy="330.8" r="0.9" fill="#1F2A85" fill-opacity="0.9"/>
<path d="M203.4,333.4 L203.4,331.4 Q212,331 218,330.4 Q222,329.8 224.5,328.5 L234,329.2 Q237,331 242,331.6 L254.5,332 L254.5,333.4 Z" fill="#22308A"/>
<circle cx="242.3" cy="332.0" r="0.9" fill="#1F2A85" fill-opacity="0.9"/>
<circle cx="204.9" cy="331.4" r="0.9" fill="#1F2A85" fill-opacity="0.9"/>
<circle cx="243.5" cy="332.0" r="0.9" fill="#1F2A85" fill-opacity="0.9"/>
<circle cx="252.2" cy="332.0" r="0.9" fill="#1F2A85" fill-opacity="0.9"/>
<circle cx="254.8" cy="331.3" r="0.9" fill="#1F2A85" fill-opacity="0.9"/>
<circle cx="247.1" cy="332.3" r="0.9" fill="#1F2A85" fill-opacity="0.9"/>
<circle cx="214.6" cy="331.8" r="0.9" fill="#1F2A85" fill-opacity="0.9"/>
<circle cx="249.4" cy="331.7" r="0.9" fill="#1F2A85" fill-opacity="0.9"/>
<circle cx="226.4" cy="331.4" r="0.9" fill="#1F2A85" fill-opacity="0.9"/>
<circle cx="249.1" cy="331.0" r="0.9" fill="#1F2A85" fill-opacity="0.9"/>
<circle cx="231.6" cy="332.2" r="0.9" fill="#1F2A85" fill-opacity="0.9"/>
<circle cx="229.1" cy="332.6" r="0.9" fill="#1F2A85" fill-opacity="0.9"/>
<circle cx="220.8" cy="331.6" r="0.9" fill="#1F2A85" fill-opacity="0.9"/>
<circle cx="254.1" cy="331.2" r="0.9" fill="#1F2A85" fill-opacity="0.9"/>
<circle cx="248.0" cy="332.5" r="0.9" fill="#1F2A85" fill-opacity="0.9"/>
<circle cx="251.1" cy="331.2" r="0.9" fill="#1F2A85" fill-opacity="0.9"/>
<circle cx="215.6" cy="331.7" r="0.9" fill="#1F2A85" fill-opacity="0.9"/>
<circle cx="207.6" cy="331.6" r="0.9" fill="#1F2A85" fill-opacity="0.9"/>
<circle cx="253.8" cy="332.8" r="0.9" fill="#1F2A85" fill-opacity="0.9"/>
<circle cx="216.6" cy="332.4" r="0.9" fill="#1F2A85" fill-opacity="0.9"/>
<circle cx="203.8" cy="332.0" r="0.9" fill="#1F2A85" fill-opacity="0.9"/>
<circle cx="204.9" cy="331.6" r="0.9" fill="#1F2A85" fill-opacity="0.9"/>
<circle cx="224.9" cy="331.5" r="0.9" fill="#1F2A85" fill-opacity="0.9"/>
<circle cx="250.8" cy="331.4" r="0.9" fill="#1F2A85" fill-opacity="0.9"/>
<circle cx="248.1" cy="331.8" r="0.9" fill="#1F2A85" fill-opacity="0.9"/>
<circle cx="204.8" cy="332.0" r="0.9" fill="#1F2A85" fill-opacity="0.9"/>
<circle cx="238.7" cy="332.7" r="0.9" fill="#1F2A85" fill-opacity="0.9"/>
<circle cx="227.5" cy="332.9" r="0.9" fill="#1F2A85" fill-opacity="0.9"/>
<circle cx="249.8" cy="332.0" r="0.9" fill="#1F2A85" fill-opacity="0.9"/>
<circle cx="238.3" cy="331.8" r="0.9" fill="#1F2A85" fill-opacity="0.9"/>
<circle cx="248.8" cy="332.1" r="0.9" fill="#1F2A85" fill-opacity="0.9"/>
<circle cx="238.8" cy="332.4" r="0.9" fill="#1F2A85" fill-opacity="0.9"/>
<circle cx="225.8" cy="332.1" r="0.9" fill="#1F2A85" fill-opacity="0.9"/>
<circle cx="246.2" cy="332.1" r="0.9" fill="#1F2A85" fill-opacity="0.9"/>
<circle cx="211.5" cy="332.0" r="0.9" fill="#1F2A85" fill-opacity="0.9"/>
<circle cx="250.2" cy="331.5" r="0.9" fill="#1F2A85" fill-opacity="0.9"/>
<circle cx="236.9" cy="321.0" r="0.95" fill="#A3BFD6" fill-opacity="0.75"/>
<circle cx="228.0" cy="328.9" r="0.95" fill="#86C6E6" fill-opacity="0.75"/>
<circle cx="229.2" cy="299.9" r="0.95" fill="#86C6E6" fill-opacity="0.75"/>
<circle cx="229.7" cy="326.2" r="0.95" fill="#86C6E6" fill-opacity="0.75"/>
<circle cx="229.8" cy="324.7" r="0.95" fill="#86C6E6" fill-opacity="0.75"/>
<circle cx="230.0" cy="324.5" r="0.95" fill="#5BB6E6" fill-opacity="0.75"/>
<circle cx="232.4" cy="323.9" r="0.95" fill="#86C6E6" fill-opacity="0.75"/>
<circle cx="230.4" cy="320.4" r="0.95" fill="#86C6E6" fill-opacity="0.75"/>
<circle cx="227.2" cy="307.0" r="0.95" fill="#5BB6E6" fill-opacity="0.75"/>
<circle cx="232.9" cy="328.2" r="0.95" fill="#5BB6E6" fill-opacity="0.75"/>
<circle cx="226.1" cy="324.9" r="0.95" fill="#5BB6E6" fill-opacity="0.75"/>
<circle cx="237.3" cy="324.3" r="0.95" fill="#86C6E6" fill-opacity="0.75"/>
<circle cx="223.2" cy="329.1" r="0.95" fill="#86C6E6" fill-opacity="0.75"/>
<circle cx="225.6" cy="320.1" r="0.95" fill="#86C6E6" fill-opacity="0.75"/>
<circle cx="230.9" cy="330.7" r="0.95" fill="#5BB6E6" fill-opacity="0.75"/>
<circle cx="231.0" cy="327.5" r="0.95" fill="#5BB6E6" fill-opacity="0.75"/>
<circle cx="225.5" cy="328.5" r="0.95" fill="#A3BFD6" fill-opacity="0.75"/>
<circle cx="230.5" cy="329.8" r="0.95" fill="#A3BFD6" fill-opacity="0.75"/>
<circle cx="229.4" cy="322.2" r="0.95" fill="#5BB6E6" fill-opacity="0.75"/>
<circle cx="223.5" cy="330.8" r="0.95" fill="#5BB6E6" fill-opacity="0.75"/>
<circle cx="228.1" cy="315.3" r="0.95" fill="#A3BFD6" fill-opacity="0.75"/>
<circle cx="227.7" cy="321.8" r="0.95" fill="#A3BFD6" fill-opacity="0.75"/>
<circle cx="225.0" cy="328.8" r="0.95" fill="#86C6E6" fill-opacity="0.75"/>
<circle cx="229.0" cy="328.6" r="0.95" fill="#5BB6E6" fill-opacity="0.75"/>
<circle cx="229.8" cy="310.0" r="0.95" fill="#86C6E6" fill-opacity="0.75"/>
<circle cx="233.9" cy="328.8" r="0.95" fill="#86C6E6" fill-opacity="0.75"/>
<circle cx="231.5" cy="311.3" r="0.95" fill="#86C6E6" fill-opacity="0.75"/>
<circle cx="232.8" cy="328.3" r="0.95" fill="#86C6E6" fill-opacity="0.75"/>
<circle cx="235.1" cy="325.9" r="0.95" fill="#86C6E6" fill-opacity="0.75"/>
<circle cx="228.5" cy="329.0" r="0.95" fill="#86C6E6" fill-opacity="0.75"/>
<circle cx="226.7" cy="330.1" r="0.95" fill="#5BB6E6" fill-opacity="0.75"/>
<circle cx="228.7" cy="329.9" r="0.95" fill="#A3BFD6" fill-opacity="0.75"/>
<circle cx="223.6" cy="321.9" r="0.95" fill="#86C6E6" fill-opacity="0.75"/>
<circle cx="238.7" cy="316.4" r="0.95" fill="#5BB6E6" fill-opacity="0.75"/>
<circle cx="236.0" cy="330.0" r="0.95" fill="#A3BFD6" fill-opacity="0.75"/>
<circle cx="231.1" cy="309.8" r="0.95" fill="#5BB6E6" fill-opacity="0.75"/>
<circle cx="231.7" cy="329.6" r="0.95" fill="#86C6E6" fill-opacity="0.75"/>
<circle cx="231.1" cy="289.3" r="0.95" fill="#86C6E6" fill-opacity="0.75"/>
<circle cx="234.1" cy="323.2" r="0.95" fill="#86C6E6" fill-opacity="0.75"/>
<circle cx="233.8" cy="318.0" r="0.95" fill="#5BB6E6" fill-opacity="0.75"/>
<circle cx="227.1" cy="326.5" r="0.95" fill="#86C6E6" fill-opacity="0.75"/>
<circle cx="232.0" cy="322.7" r="0.95" fill="#86C6E6" fill-opacity="0.75"/>
<circle cx="232.7" cy="322.0" r="0.95" fill="#5BB6E6" fill-opacity="0.75"/>
<circle cx="231.2" cy="325.6" r="0.95" fill="#5BB6E6" fill-opacity="0.75"/>
<circle cx="231.3" cy="326.3" r="0.95" fill="#A3BFD6" fill-opacity="0.75"/>
<circle cx="232.1" cy="316.9" r="0.95" fill="#5BB6E6" fill-opacity="0.75"/>
<circle cx="231.5" cy="310.9" r="0.95" fill="#5BB6E6" fill-opacity="0.75"/>
<circle cx="225.1" cy="323.4" r="0.95" fill="#86C6E6" fill-opacity="0.75"/>
<circle cx="237.3" cy="324.7" r="0.95" fill="#5BB6E6" fill-opacity="0.75"/>
<circle cx="229.7" cy="328.0" r="0.95" fill="#86C6E6" fill-opacity="0.75"/>
<circle cx="231.5" cy="318.7" r="0.95" fill="#5BB6E6" fill-opacity="0.75"/>
<circle cx="222.5" cy="329.7" r="0.95" fill="#5BB6E6" fill-opacity="0.75"/>
<circle cx="229.3" cy="311.9" r="0.95" fill="#86C6E6" fill-opacity="0.75"/>
<circle cx="224.1" cy="326.3" r="0.95" fill="#86C6E6" fill-opacity="0.75"/>
<circle cx="227.7" cy="330.3" r="0.95" fill="#86C6E6" fill-opacity="0.75"/>
<circle cx="232.4" cy="311.3" r="0.95" fill="#A3BFD6" fill-opacity="0.75"/>
<circle cx="228.8" cy="330.5" r="0.95" fill="#5BB6E6" fill-opacity="0.75"/>
<circle cx="240.9" cy="327.3" r="0.95" fill="#5BB6E6" fill-opacity="0.75"/>
<circle cx="227.0" cy="323.4" r="0.95" fill="#5BB6E6" fill-opacity="0.75"/>
<circle cx="229.8" cy="321.7" r="0.95" fill="#86C6E6" fill-opacity="0.75"/>
<circle cx="231.1" cy="318.1" r="0.95" fill="#A3BFD6" fill-opacity="0.75"/>
<circle cx="230.4" cy="330.0" r="0.95" fill="#86C6E6" fill-opacity="0.75"/>
<circle cx="229.4" cy="328.3" r="0.95" fill="#86C6E6" fill-opacity="0.75"/>
<circle cx="231.1" cy="321.6" r="0.95" fill="#86C6E6" fill-opacity="0.75"/>
<circle cx="230.4" cy="330.1" r="0.95" fill="#A3BFD6" fill-opacity="0.75"/>
<circle cx="238.5" cy="324.0" r="0.95" fill="#5BB6E6" fill-opacity="0.75"/>
<circle cx="227.5" cy="300.3" r="0.95" fill="#5BB6E6" fill-opacity="0.75"/>
<circle cx="226.9" cy="316.1" r="0.95" fill="#86C6E6" fill-opacity="0.75"/>
<circle cx="226.0" cy="323.8" r="0.95" fill="#5BB6E6" fill-opacity="0.75"/>
<circle cx="227.2" cy="307.0" r="0.95" fill="#86C6E6" fill-opacity="0.75"/>
<circle cx="238.3" cy="326.6" r="0.95" fill="#A3BFD6" fill-opacity="0.75"/>
<circle cx="229.2" cy="322.5" r="0.95" fill="#86C6E6" fill-opacity="0.75"/>
<circle cx="227.3" cy="325.9" r="0.95" fill="#5BB6E6" fill-opacity="0.75"/>
<circle cx="230.6" cy="322.8" r="0.95" fill="#5BB6E6" fill-opacity="0.75"/>
<circle cx="227.6" cy="324.2" r="0.95" fill="#5BB6E6" fill-opacity="0.75"/>
<circle cx="230.8" cy="321.2" r="0.95" fill="#5BB6E6" fill-opacity="0.75"/>
<circle cx="231.4" cy="330.8" r="0.95" fill="#86C6E6" fill-opacity="0.75"/>
<circle cx="225.3" cy="326.3" r="0.95" fill="#5BB6E6" fill-opacity="0.75"/>
<circle cx="228.7" cy="330.5" r="0.95" fill="#A3BFD6" fill-opacity="0.75"/>
<circle cx="231.4" cy="290.6" r="0.95" fill="#5BB6E6" fill-opacity="0.75"/>
<circle cx="234.5" cy="330.3" r="0.95" fill="#5BB6E6" fill-opacity="0.75"/>
<circle cx="228.0" cy="328.4" r="0.95" fill="#86C6E6" fill-opacity="0.75"/>
<circle cx="237.3" cy="330.6" r="0.95" fill="#5BB6E6" fill-opacity="0.75"/>
<circle cx="235.2" cy="329.6" r="0.95" fill="#86C6E6" fill-opacity="0.75"/>
<circle cx="234.2" cy="322.7" r="0.95" fill="#5BB6E6" fill-opacity="0.75"/>
<circle cx="234.6" cy="329.9" r="0.95" fill="#86C6E6" fill-opacity="0.75"/>
<circle cx="232.7" cy="327.0" r="0.95" fill="#86C6E6" fill-opacity="0.75"/>
<circle cx="233.1" cy="321.1" r="0.95" fill="#5BB6E6" fill-opacity="0.75"/>
<circle cx="227.1" cy="322.7" r="0.95" fill="#5BB6E6" fill-opacity="0.75"/>
<circle cx="227.2" cy="317.5" r="0.95" fill="#A3BFD6" fill-opacity="0.75"/>
<circle cx="231.9" cy="315.8" r="0.95" fill="#86C6E6" fill-opacity="0.75"/>
<circle cx="233.2" cy="328.5" r="0.95" fill="#86C6E6" fill-opacity="0.75"/>
<circle cx="228.9" cy="324.7" r="0.95" fill="#5BB6E6" fill-opacity="0.75"/>
<circle cx="235.2" cy="328.1" r="0.95" fill="#A3BFD6" fill-opacity="0.75"/>
<circle cx="226.5" cy="320.6" r="0.95" fill="#5BB6E6" fill-opacity="0.75"/>
<circle cx="228.9" cy="318.4" r="0.95" fill="#86C6E6" fill-opacity="0.75"/>
<circle cx="228.9" cy="303.7" r="0.95" fill="#86C6E6" fill-opacity="0.75"/>
<circle cx="230.5" cy="312.0" r="0.95" fill="#86C6E6" fill-opacity="0.75"/>
<circle cx="233.2" cy="322.1" r="0.95" fill="#86C6E6" fill-opacity="0.75"/>
<circle cx="230.7" cy="322.2" r="0.95" fill="#86C6E6" fill-opacity="0.75"/>
<circle cx="229.2" cy="328.7" r="0.95" fill="#86C6E6" fill-opacity="0.75"/>
<circle cx="236.6" cy="323.8" r="0.95" fill="#5BB6E6" fill-opacity="0.75"/>
<circle cx="228.4" cy="325.0" r="0.95" fill="#5BB6E6" fill-opacity="0.75"/>
<circle cx="232.7" cy="318.7" r="0.95" fill="#86C6E6" fill-opacity="0.75"/>
<circle cx="225.7" cy="316.4" r="0.95" fill="#86C6E6" fill-opacity="0.75"/>
<circle cx="232.9" cy="325.7" r="0.95" fill="#5BB6E6" fill-opacity="0.75"/>
<circle cx="231.9" cy="326.5" r="0.95" fill="#A3BFD6" fill-opacity="0.75"/>
<circle cx="232.4" cy="327.5" r="0.95" fill="#A3BFD6" fill-opacity="0.75"/>
<circle cx="231.4" cy="318.2" r="0.95" fill="#5BB6E6" fill-opacity="0.75"/>
<circle cx="228.5" cy="323.2" r="0.95" fill="#5BB6E6" fill-opacity="0.75"/>
<circle cx="224.9" cy="325.1" r="1.3" fill="#E9A21A" fill-opacity="0.75"/>
<circle cx="226.2" cy="327.2" r="1.3" fill="#E9A21A" fill-opacity="0.75"/>
<circle cx="223.5" cy="328.2" r="1.3" fill="#E9A21A" fill-opacity="0.75"/>
<circle cx="240.4" cy="213.0" r="1.0" fill="#A3BFD6" fill-opacity="0.7"/>
<circle cx="234.3" cy="258.1" r="1.0" fill="#A3BFD6" fill-opacity="0.7"/>
<circle cx="201.1" cy="273.0" r="1.0" fill="#A3BFD6" fill-opacity="0.75"/>
<circle cx="203.9" cy="276.5" r="1.0" fill="#A3BFD6" fill-opacity="0.75"/>
<circle cx="242.0" cy="280.7" r="1.0" fill="#E9A21A" fill-opacity="0.5"/>
<circle cx="235.2" cy="285.5" r="1.0" fill="#A3BFD6" fill-opacity="0.7"/>
<circle cx="230.3" cy="290.9" r="1.0" fill="#A3BFD6" fill-opacity="0.7"/>
<circle cx="239.0" cy="289.8" r="1.0" fill="#A3BFD6" fill-opacity="0.7"/>
<circle cx="230.3" cy="296.4" r="1.0" fill="#A3BFD6" fill-opacity="0.7"/>
<circle cx="235.2" cy="296.4" r="1.0" fill="#A3BFD6" fill-opacity="0.7"/>
<circle cx="232.4" cy="299.0" r="1.0" fill="#A3BFD6" fill-opacity="0.7"/>
<circle cx="231.4" cy="302.9" r="1.0" fill="#1F2A85" fill-opacity="0.9"/>
<circle cx="235.5" cy="309.0" r="1.0" fill="#1F2A85" fill-opacity="0.85"/>
<circle cx="239.5" cy="312.0" r="1.0" fill="#1F2A85" fill-opacity="0.85"/>
<circle cx="234.3" cy="315.6" r="1.0" fill="#1F2A85" fill-opacity="0.85"/>
<circle cx="239.5" cy="318.5" r="1.0" fill="#1F2A85" fill-opacity="0.85"/>
<circle cx="233.0" cy="326.0" r="1.0" fill="#1F2A85" fill-opacity="0.9"/>
<circle cx="228.0" cy="329.0" r="1.0" fill="#1F2A85" fill-opacity="0.9"/>
<circle cx="249.0" cy="315.0" r="1.0" fill="#A3BFD6" fill-opacity="0.6"/>
<circle cx="246.5" cy="313.0" r="1.0" fill="#A3BFD6" fill-opacity="0.6"/>
<circle cx="241.3" cy="328.1" r="1.0" fill="#1F2A85" fill-opacity="0.9"/>
<circle cx="246.1" cy="326.8" r="1.0" fill="#1F2A85" fill-opacity="0.9"/>
<circle cx="249.5" cy="326.5" r="1.0" fill="#1F2A85" fill-opacity="0.9"/>
<circle cx="253.6" cy="329.8" r="1.0" fill="#1F2A85" fill-opacity="0.9"/>
<circle cx="262.6" cy="325.1" r="1.0" fill="#A3BFD6" fill-opacity="0.6"/>
<circle cx="206.0" cy="326.8" r="1.0" fill="#5BB6E6" fill-opacity="0.7"/>
<circle cx="212.8" cy="327.8" r="1.0" fill="#1F2A85" fill-opacity="0.8"/>
<circle cx="236.0" cy="323.0" r="1.0" fill="#E9A21A" fill-opacity="0.5"/>
</g>
<text x="343.5" y="193.9" font-size="12.8" fill="#000" text-anchor="start" font-weight="bold">F</text>
<rect x="369.50" y="189.50" width="113.00" height="10.00" fill="#fff" stroke="#262626" stroke-width="1"/>
<text x="426.0" y="197.0" font-size="6.0" fill="#222" text-anchor="middle" textLength="16.2" lengthAdjust="spacingAndGlyphs">LTR26</text>
<line x1="369.5" y1="199.5" x2="369.5" y2="341.8" stroke="#333" stroke-width="1.3"/>
<line x1="368.9" y1="341.2" x2="483" y2="341.2" stroke="#333" stroke-width="1.3"/>
<line x1="367.2" y1="334.0" x2="369.5" y2="334.0" stroke="#333" stroke-width="0.8"/>
<text x="366.6" y="336.2" font-size="6.0" fill="#555" text-anchor="end" textLength="3.2" lengthAdjust="spacingAndGlyphs">0</text>
<line x1="367.2" y1="295.8666666666667" x2="369.5" y2="295.8666666666667" stroke="#333" stroke-width="0.8"/>
<text x="366.6" y="298.06666666666666" font-size="6.0" fill="#555" text-anchor="end" textLength="3.2" lengthAdjust="spacingAndGlyphs">2</text>
<line x1="367.2" y1="257.73333333333335" x2="369.5" y2="257.73333333333335" stroke="#333" stroke-width="0.8"/>
<text x="366.6" y="259.93333333333334" font-size="6.0" fill="#555" text-anchor="end" textLength="3.2" lengthAdjust="spacingAndGlyphs">4</text>
<line x1="367.2" y1="219.6" x2="369.5" y2="219.6" stroke="#333" stroke-width="0.8"/>
<text x="366.6" y="221.79999999999998" font-size="6.0" fill="#555" text-anchor="end" textLength="3.2" lengthAdjust="spacingAndGlyphs">6</text>
<rect x="373.50" y="315.10" width="24.40" height="19.10" fill="#E8178A"/>
<rect x="401.20" y="286.30" width="24.10" height="47.90" fill="#FDB71A"/>
<rect x="427.80" y="248.30" width="24.20" height="85.90" fill="#EC383D"/>
<rect x="455.00" y="217.70" width="24.00" height="116.50" fill="#4A86C8"/>
<line x1="385.7" y1="314.8" x2="385.7" y2="315.3" stroke="#111" stroke-width="0.9"/>
<line x1="383.2" y1="314.8" x2="388.2" y2="314.8" stroke="#111" stroke-width="0.9"/>
<line x1="383.2" y1="315.3" x2="388.2" y2="315.3" stroke="#111" stroke-width="0.9"/>
<line x1="412.7" y1="282.4" x2="412.7" y2="289.8" stroke="#111" stroke-width="0.9"/>
<line x1="409.2" y1="282.4" x2="416.2" y2="282.4" stroke="#111" stroke-width="0.9"/>
<line x1="409.2" y1="289.8" x2="416.2" y2="289.8" stroke="#111" stroke-width="0.9"/>
<line x1="439.7" y1="238.2" x2="439.7" y2="259.5" stroke="#111" stroke-width="0.9"/>
<line x1="436.09999999999997" y1="238.2" x2="443.3" y2="238.2" stroke="#111" stroke-width="0.9"/>
<line x1="436.09999999999997" y1="259.5" x2="443.3" y2="259.5" stroke="#111" stroke-width="0.9"/>
<line x1="466.7" y1="206.3" x2="466.7" y2="228.7" stroke="#111" stroke-width="0.9"/>
<line x1="463.3" y1="206.3" x2="470.09999999999997" y2="206.3" stroke="#111" stroke-width="0.9"/>
<line x1="463.3" y1="228.7" x2="470.09999999999997" y2="228.7" stroke="#111" stroke-width="0.9"/>
<text x="439.7" y="237.9" font-size="6.5" fill="#111" text-anchor="middle">*</text>
<text x="466.7" y="205.9" font-size="6.5" fill="#111" text-anchor="middle">**</text>
<line x1="385.7" y1="341.2" x2="385.7" y2="343.4" stroke="#333" stroke-width="0.8"/>
<text transform="translate(390.0,347.8) rotate(-90)" x="0" y="0" font-size="5.4" fill="#555" text-anchor="end" textLength="8.6" lengthAdjust="spacingAndGlyphs">EP</text>
<line x1="412.7" y1="341.2" x2="412.7" y2="343.4" stroke="#333" stroke-width="0.8"/>
<text transform="translate(417.0,347.8) rotate(-90)" x="0" y="0" font-size="5.4" fill="#555" text-anchor="end" textLength="12.5" lengthAdjust="spacingAndGlyphs">hTERT</text>
<line x1="439.3" y1="341.2" x2="439.3" y2="343.4" stroke="#333" stroke-width="0.8"/>
<text transform="translate(443.6,347.8) rotate(-90)" x="0" y="0" font-size="5.4" fill="#555" text-anchor="end" textLength="11.1" lengthAdjust="spacingAndGlyphs">SV40</text>
<line x1="467" y1="341.2" x2="467" y2="343.4" stroke="#333" stroke-width="0.8"/>
<text transform="translate(471.3,347.8) rotate(-90)" x="0" y="0" font-size="5.4" fill="#555" text-anchor="end" textLength="11.7" lengthAdjust="spacingAndGlyphs">HRAS</text>
<text transform="translate(356.0,271.0) rotate(-90)" x="0" y="0" font-size="7.7" fill="#222" text-anchor="middle" textLength="42.4" lengthAdjust="spacingAndGlyphs">Fold change</text>
</svg></body></html>
